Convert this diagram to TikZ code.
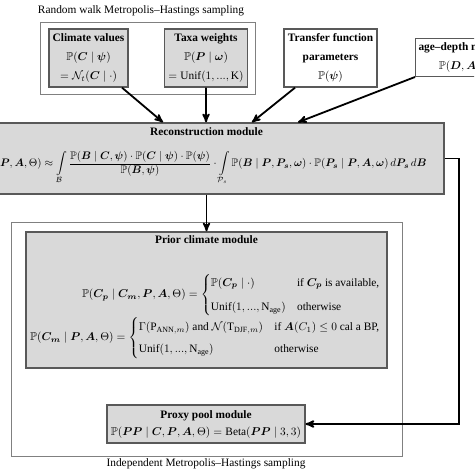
\documentclass[tikz,border=0pt]{standalone}
\usepackage{amsmath}
\usepackage{amssymb}
\usepackage{fontspec}
\setmainfont{Liberation Serif}
\usetikzlibrary{arrows,positioning}
\definecolor{modfill}{gray}{0.85}
\definecolor{modedge}{gray}{0.35}
\definecolor{sampedge}{gray}{0.5}

\begin{document}
\begin{tikzpicture}[x=0.88pt,y=-0.88pt,->,>=stealth',semithick,
                    module/.style={draw=modedge,fill=modfill,line width=1.2pt,align=center},
                    plainbox/.style={draw=modedge,fill=white,line width=1.2pt,align=center},
                    sampler/.style={draw=sampedge,line width=0.8pt},
                    headline/.style={font=\bfseries,inner sep=0pt},
                    link/.style={line width=1.6pt}]

  \useasboundingbox (0,0) rectangle (474,474);
  \clip (0,0) rectangle (474,474);

  \node                 (rwtitle) at (141,11)   {Random walk Metropolis--Hastings sampling};
  \node[sampler,minimum width=189.2pt,minimum height=63.4pt] (rwbox) at (147.5,58) {};
  \node[module,minimum width=69.5pt,minimum height=51pt]  (climate) at (88.5,58)
       {\textbf{Climate values}\\[5pt] $\mathbb{P}(\boldsymbol{C}\mid\boldsymbol{\psi})$\\[5pt] $=\mathcal{N}_t(\boldsymbol{C}\mid\cdot)$};
  \node[module,minimum width=72.2pt,minimum height=51pt]  (taxa)    at (206,58)
       {\textbf{Taxa weights}\\[5pt] $\mathbb{P}(\boldsymbol{P}\mid\boldsymbol{\omega})$\\[5pt] $=\text{Unif}(1,...,\text{K})$};
  \node[plainbox,minimum width=81.8pt,minimum height=51pt] (transfer) at (330.5,58)
       {\textbf{Transfer function}\\[5pt] \textbf{parameters}\\[5pt] $\mathbb{P}(\boldsymbol{\psi})$};
  \node[plainbox,anchor=west,inner xsep=2.5pt,minimum height=32.6pt] (agedepth) at (415,57.5)
       {\textbf{age--depth model}\\[5pt] $\mathbb{P}(\boldsymbol{D},\boldsymbol{A})$};

  \node[module,minimum width=418pt,minimum height=62.5pt] (recon) at (206.5,158.5) {};
  \node[headline] (recontitle) [below=4.5pt of recon.north] {Reconstruction module};
  \node[inner sep=0pt] (reconeq) at (198.5,168)
       {\scalebox{0.96}{$\displaystyle \mathbb{P}(\boldsymbol{C}\mid\boldsymbol{P},\boldsymbol{A},\Theta)\approx
        \int\limits_{\mathcal{B}}\frac{\mathbb{P}(\boldsymbol{B}\mid\boldsymbol{C},\boldsymbol{\psi})\cdot
        \mathbb{P}(\boldsymbol{C}\mid\boldsymbol{\psi})\cdot\mathbb{P}(\boldsymbol{\psi})}{\mathbb{P}(\boldsymbol{B},\boldsymbol{\psi})}\cdot
        \int\limits_{\mathcal{P}_s}\mathbb{P}(\boldsymbol{B}\mid\boldsymbol{P},\boldsymbol{P_s},\boldsymbol{\omega})\cdot
        \mathbb{P}(\boldsymbol{P_s}\mid\boldsymbol{P},\boldsymbol{A},\boldsymbol{\omega})\,d\boldsymbol{P_s}\,d\boldsymbol{B}$}};

  \node[sampler,minimum width=344pt,minimum height=206pt] (indep) at (206.5,339) {};
  \node[module,minimum width=317.7pt,minimum height=119.7pt] (prior) at (206.5,300) {};
  \node[headline] (priortitle) [below=3.8pt of prior.north] {Prior climate module};
  \node[anchor=east,align=right,inner sep=0pt] (priorcases) at (381,316.5)
       {$\displaystyle \mathbb{P}(\boldsymbol{C_p}\mid\boldsymbol{C_m},\boldsymbol{P},\boldsymbol{A},\Theta)=
        \begin{cases}\mathbb{P}(\boldsymbol{C_p}\mid\cdot) & \text{if $\boldsymbol{C_p}$ is available,}\\[7pt]
        \text{Unif}(1,...,\text{N}_{\text{age}}) & \text{otherwise}\end{cases}$\\[1pt]
        $\displaystyle \mathbb{P}(\boldsymbol{C_m}\mid\boldsymbol{P},\boldsymbol{A},\Theta)=
        \begin{cases}\Gamma(\text{P}_{\text{ANN},m})\text{ and }\mathcal{N}(\text{T}_{\text{DJF},m}) & \text{if $\boldsymbol{A}(C_1)\le 0$ cal a BP,}\\[5pt]
        \text{Unif}(1,...,\text{N}_{\text{age}}) & \text{otherwise}\end{cases}$};
  \node[module,minimum width=174pt,minimum height=33.4pt] (proxy) at (206,424)
       {\textbf{Proxy pool module}\\[3pt]
        $\mathbb{P}(\boldsymbol{PP}\mid\boldsymbol{C},\boldsymbol{P},\boldsymbol{A},\Theta)=\text{Beta}(\boldsymbol{PP}\mid 3,3)$};
  \node                 (indeptitle) at (206,464) {Independent Metropolis--Hastings sampling};

  \path[link] ([xshift=29.5pt]climate.south)   edge ([xshift=-38.3pt]recon.north)
              (taxa.south)                     edge ([xshift=-0.4pt]recon.north)
              ([xshift=-31.2pt]transfer.south) edge ([xshift=40pt]recon.north)
              (agedepth.south west)            edge ([xshift=80.5pt]recon.north)
              (recon.south)                    edge (prior.north);
  \draw[link] (recon.east) -- ++(12.3pt,0pt) |- (proxy.east);
\end{tikzpicture}
\end{document}
